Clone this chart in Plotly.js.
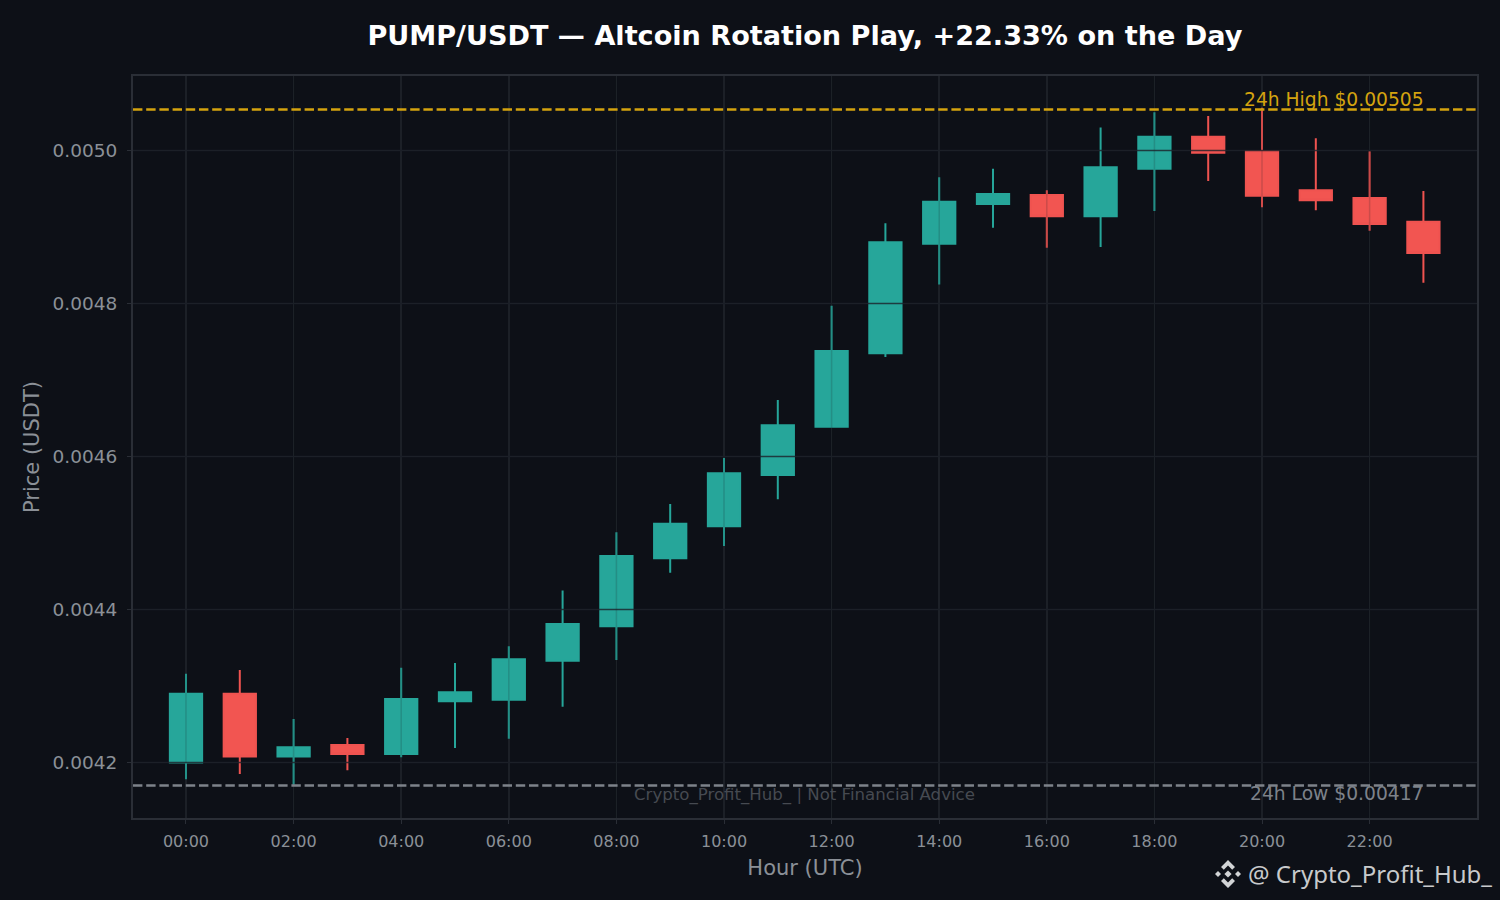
<!DOCTYPE html>
<html><head><meta charset="utf-8">
<script src="https://cdn.plot.ly/plotly-3.0.1.min.js"></script>
<style>html,body{margin:0;padding:0;background:#0d1017}#c{width:1500px;height:900px}</style>
</head><body><div id="c"></div>
<script>
const hours = [0,1,2,3,4,5,6,7,8,9,10,11,12,13,14,15,16,17,18,19,20,21,22,23];
const opens  = [.00420,.00429,.004208,.004223,.004211,.00428,.004282,.004333,.004378,.004467,.004509,.004576,.004639,.004735,.004878,.00493,.004942,.004914,.004976,.005018,.004999,.004948,.004938,.004907];
const closes = [.00429,.004208,.00422,.004211,.004283,.004292,.004335,.004381,.00447,.004512,.004578,.004641,.004738,.00488,.004933,.004943,.004914,.004978,.005018,.004997,.004941,.004935,.004904,.004866];
const highs  = [.004316,.004321,.004257,.004232,.004324,.00433,.004352,.004425,.004501,.004538,.004598,.004674,.004797,.004905,.004965,.004976,.004948,.00503,.00505,.005045,.005056,.005016,.004999,.004947];
const lows   = [.004178,.004185,.004171,.00419,.004207,.004219,.004231,.004273,.004334,.004448,.004483,.004544,.004639,.00473,.004825,.004899,.004873,.004874,.004921,.00496,.004926,.004922,.004895,.004827];
const xTickVals = [0,2,4,6,8,10,12,14,16,18,20,22];
const xTickText = ["00:00","02:00","04:00","06:00","08:00","10:00","12:00","14:00","16:00","18:00","20:00","22:00"];
const yTickVals = [.0042,.0044,.0046,.0048,.0050];
const yTickText = ["0.0042","0.0044","0.0046","0.0048","0.0050"];
const high24 = 0.0050537, low24 = 0.00417;

const F = "DejaVu Sans, sans-serif";
const logo = 'data:image/svg+xml;utf8,' + encodeURIComponent(
 '<svg xmlns="http://www.w3.org/2000/svg" viewBox="0 0 28 28"><g fill="#d2d4d6">'+
 '<path d="M14 0 L21 7 L18.2 9.8 L14 5.6 L9.8 9.8 L7 7 Z"/>'+
 '<path d="M14 28 L21 21 L18.2 18.2 L14 22.4 L9.8 18.2 L7 21 Z"/>'+
 '<path d="M14 10.4 L17.6 14 L14 17.6 L10.4 14 Z"/>'+
 '<path d="M4 11 L7 14 L4 17 L1 14 Z"/>'+
 '<path d="M24 11 L27 14 L24 17 L21 14 Z"/></g></svg>');

const trace = {
  type:'candlestick', x:hours, open:opens, high:highs, low:lows, close:closes,
  whiskerwidth:0, hoverinfo:'skip',
  increasing:{line:{color:'#26a69a',width:2},fillcolor:'#26a69a'},
  decreasing:{line:{color:'#ef5350',width:2},fillcolor:'#f25551'}
};
const PW = 1344, PH = 742;
const gridShapes = yTickVals.map(v => ({type:'line',xref:'paper',x0:0,x1:1,yref:'y',y0:v,y1:v,line:{color:'rgba(29,33,40,0.8)',width:1.5},layer:'above'}))
  .concat(xTickVals.map(v => ({type:'line',yref:'paper',y0:0,y1:1,xref:'x',x0:v,x1:v,line:{color:'rgba(29,33,40,0.18)',width:1.5},layer:'above'})));
const layout = {
  width:1500, height:900, paper_bgcolor:'#0d1017', plot_bgcolor:'#0d1017',
  margin:{l:133,r:23,t:76,b:82}, showlegend:false, boxgap:0.4, boxgroupgap:0,
  font:{family:F,color:'#8b9097'},
  title:{text:'<b>PUMP/USDT — Altcoin Rotation Play, +22.33% on the Day</b>',
         font:{family:F,size:27.1,color:'#ffffff'},x:0.5366,xanchor:'center',y:0.96,yanchor:'middle'},
  xaxis:{range:[-0.985,23.996],tickmode:'array',tickvals:xTickVals,ticktext:xTickText,
    tickfont:{size:16,color:'#8b9097'},showgrid:true,gridcolor:'#1d2128',gridwidth:1.5,
    rangeslider:{visible:false},zeroline:false,showline:true,mirror:true,linecolor:'#2a2e36',linewidth:2,
    ticks:'outside',ticklen:4,tickcolor:'#2a2e36',tickwidth:1,ticklabelstandoff:4,
    title:{text:'Hour (UTC)',font:{size:21,color:'#8b9097'},standoff:10}},
  yaxis:{range:[0.0041275,0.0050974],tickmode:'array',tickvals:yTickVals,ticktext:yTickText,
    tickfont:{size:18.5,color:'#8b9097'},showgrid:true,gridcolor:'#1d2128',gridwidth:1.5,
    zeroline:false,showline:true,mirror:true,linecolor:'#2a2e36',linewidth:2,
    ticks:'outside',ticklen:4,tickcolor:'#2a2e36',tickwidth:1,ticklabelstandoff:6,
    title:{text:'Price (USDT)',font:{size:21,color:'#8b9097'},standoff:7}},
  shapes:gridShapes.concat([
    {type:'line',xref:'paper',x0:0,x1:1,yref:'y',y0:high24,y1:high24,line:{color:'#d4a30f',width:2.6,dash:'9.4px 3.8px'},layer:'above'},
    {type:'line',xref:'paper',x0:0,x1:1,yref:'y',y0:low24,y1:low24,line:{color:'#7d828a',width:2.6,dash:'9.4px 3.8px'},layer:'above'}
  ]),
  annotations:[
    {x:23,xref:'x',xanchor:'right',y:high24,yref:'y',yanchor:'bottom',yshift:-3,xshift:3,text:'24h High $0.00505',showarrow:false,font:{size:18.7,color:'#d4a30f'}},
    {x:23,xref:'x',xanchor:'right',y:low24,yref:'y',yanchor:'top',yshift:4,xshift:2,text:'24h Low $0.00417',showarrow:false,font:{size:18.7,color:'#7d828a'}},
    {x:(804-133)/PW,xref:'paper',xanchor:'center',y:low24,yref:'y',yanchor:'top',yshift:2,text:'Crypto_Profit_Hub_ | Not Financial Advice',showarrow:false,font:{size:16.6,color:'#464a51'}},
    {x:(1494-133)/PW,xref:'paper',xanchor:'right',y:-(855-818)/PH,yref:'paper',yanchor:'top',text:'@ Crypto_Profit_Hub_',showarrow:false,font:{family:'Noto Sans, sans-serif',size:24,color:'#c8cacc'}}
  ],
  images:[{source:logo,xref:'paper',yref:'paper',x:(1214-133)/PW,y:(818-888)/PH,sizex:28/PW,sizey:28/PH,xanchor:'left',yanchor:'bottom',sizing:'contain',layer:'above'}]
};
Plotly.newPlot('c',[trace],layout,{displayModeBar:false,staticPlot:true});
</script></body></html>
